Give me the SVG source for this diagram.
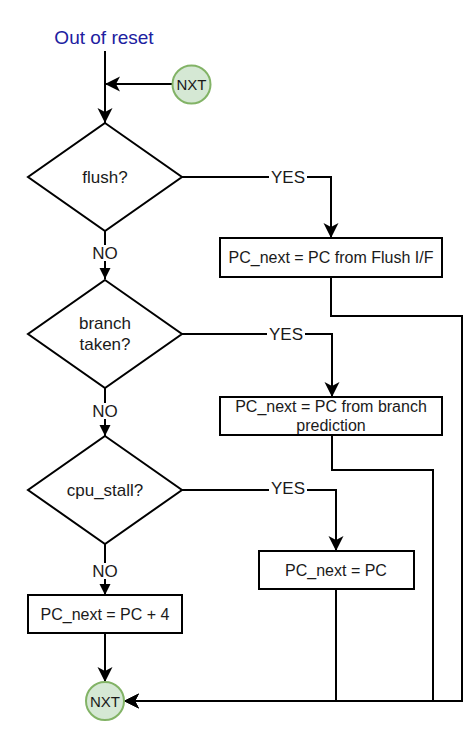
<svg xmlns="http://www.w3.org/2000/svg" width="474" height="729" viewBox="0 0 474 729">
<defs>
<marker id="arr" markerUnits="userSpaceOnUse" markerWidth="18" markerHeight="18" viewBox="-16 -9 18 18" refX="0" refY="0" orient="auto">
<path d="M0,0 L-15,-7.5 L-11,0 L-15,7.5 Z" fill="#000"/>
</marker>
<marker id="blk" markerUnits="userSpaceOnUse" markerWidth="14" markerHeight="14" viewBox="-12 -7 14 14" refX="0" refY="0" orient="auto">
<path d="M0,0 L-11,-5.5 L-11,5.5 Z" fill="#000"/>
</marker>
</defs>
<style>
.ln{fill:none;stroke:#000;stroke-width:2}
.sh{fill:#fff;stroke:#000;stroke-width:2}
.ci{fill:#d5e8d4;stroke:#82b366;stroke-width:2}
text{font-family:"Liberation Sans",Arial,sans-serif;font-size:16px;fill:#1a1a1a;text-anchor:middle}
.dt{font-size:17px}
.bg{fill:#fff}
</style>
<rect width="474" height="729" fill="#fff"/>
<g id="connectors">
<path class="ln" d="M105,51 L105,123" marker-end="url(#arr)"/>
<path class="ln" d="M172,84 L105,84" marker-end="url(#arr)"/>
<path class="ln" d="M182,177 L331,177 L331,238" marker-end="url(#arr)"/>
<path class="ln" d="M105,231 L105,279" marker-end="url(#blk)"/>
<path class="ln" d="M182,334 L332,334 L332,397" marker-end="url(#arr)"/>
<path class="ln" d="M105,388 L105,436" marker-end="url(#blk)"/>
<path class="ln" d="M182,490 L336,490 L336,551" marker-end="url(#arr)"/>
<path class="ln" d="M105,544 L105,595" marker-end="url(#blk)"/>
<path class="ln" d="M105,633 L105,682" marker-end="url(#arr)"/>
<path class="ln" d="M331,277 L331,316 L462,316 L462,701 L124,701" marker-end="url(#arr)"/>
<path class="ln" d="M332,435 L332,470 L433,470 L433,701 L124,701" marker-end="url(#arr)"/>
<path class="ln" d="M336,589 L336,701 L124,701" marker-end="url(#arr)"/>
<rect class="bg" x="269" y="168" width="38" height="18"/>
<text x="288" y="183" class="dt">YES</text>
<rect class="bg" x="267" y="326" width="38" height="18"/>
<text x="286" y="340" class="dt">YES</text>
<rect class="bg" x="269" y="480" width="38" height="18"/>
<text x="288" y="494" class="dt">YES</text>
<rect class="bg" x="91" y="245" width="28" height="16"/>
<text x="105" y="259" class="dt">NO</text>
<rect class="bg" x="91" y="403" width="28" height="16"/>
<text x="105" y="417" class="dt">NO</text>
<rect class="bg" x="91" y="563" width="28" height="16"/>
<text x="105" y="577" class="dt">NO</text>
</g>
<g id="start"><text x="104" y="44" style="font-size:19px;fill:#2020a0">Out of reset</text></g>
<g id="nxt-top"><circle class="ci" cx="191.5" cy="84.5" r="19"/><text x="191.5" y="90" style="font-size:15px">NXT</text></g>
<g id="flush"><path class="sh" d="M105,123 L182,177 L105,231 L28,177 Z"/><text x="105" y="183" class="dt">flush?</text></g>
<g id="branch"><path class="sh" d="M105,280 L182,334 L105,388 L28,334 Z"/><text x="105" y="329" class="dt">branch</text><text x="105" y="350" class="dt">taken?</text></g>
<g id="stall"><path class="sh" d="M105,436 L182,490 L105,544 L28,490 Z"/><text x="105" y="496" class="dt">cpu_stall?</text></g>
<g id="box-flush"><rect class="sh" x="220" y="238" width="222" height="39"/><text x="331" y="263">PC_next = PC from Flush I/F</text></g>
<g id="box-branch"><rect class="sh" x="220" y="397" width="222" height="38"/><text x="331" y="412">PC_next = PC from branch</text><text x="331" y="431">prediction</text></g>
<g id="box-stall"><rect class="sh" x="259" y="551" width="155" height="38"/><text x="336" y="575.5">PC_next = PC</text></g>
<g id="box-plus4"><rect class="sh" x="28" y="595" width="154" height="38"/><text x="105" y="619.5">PC_next = PC + 4</text></g>
<g id="nxt-bottom"><circle class="ci" cx="105" cy="701" r="19"/><text x="105" y="706.5" style="font-size:15px">NXT</text></g>
</svg>
